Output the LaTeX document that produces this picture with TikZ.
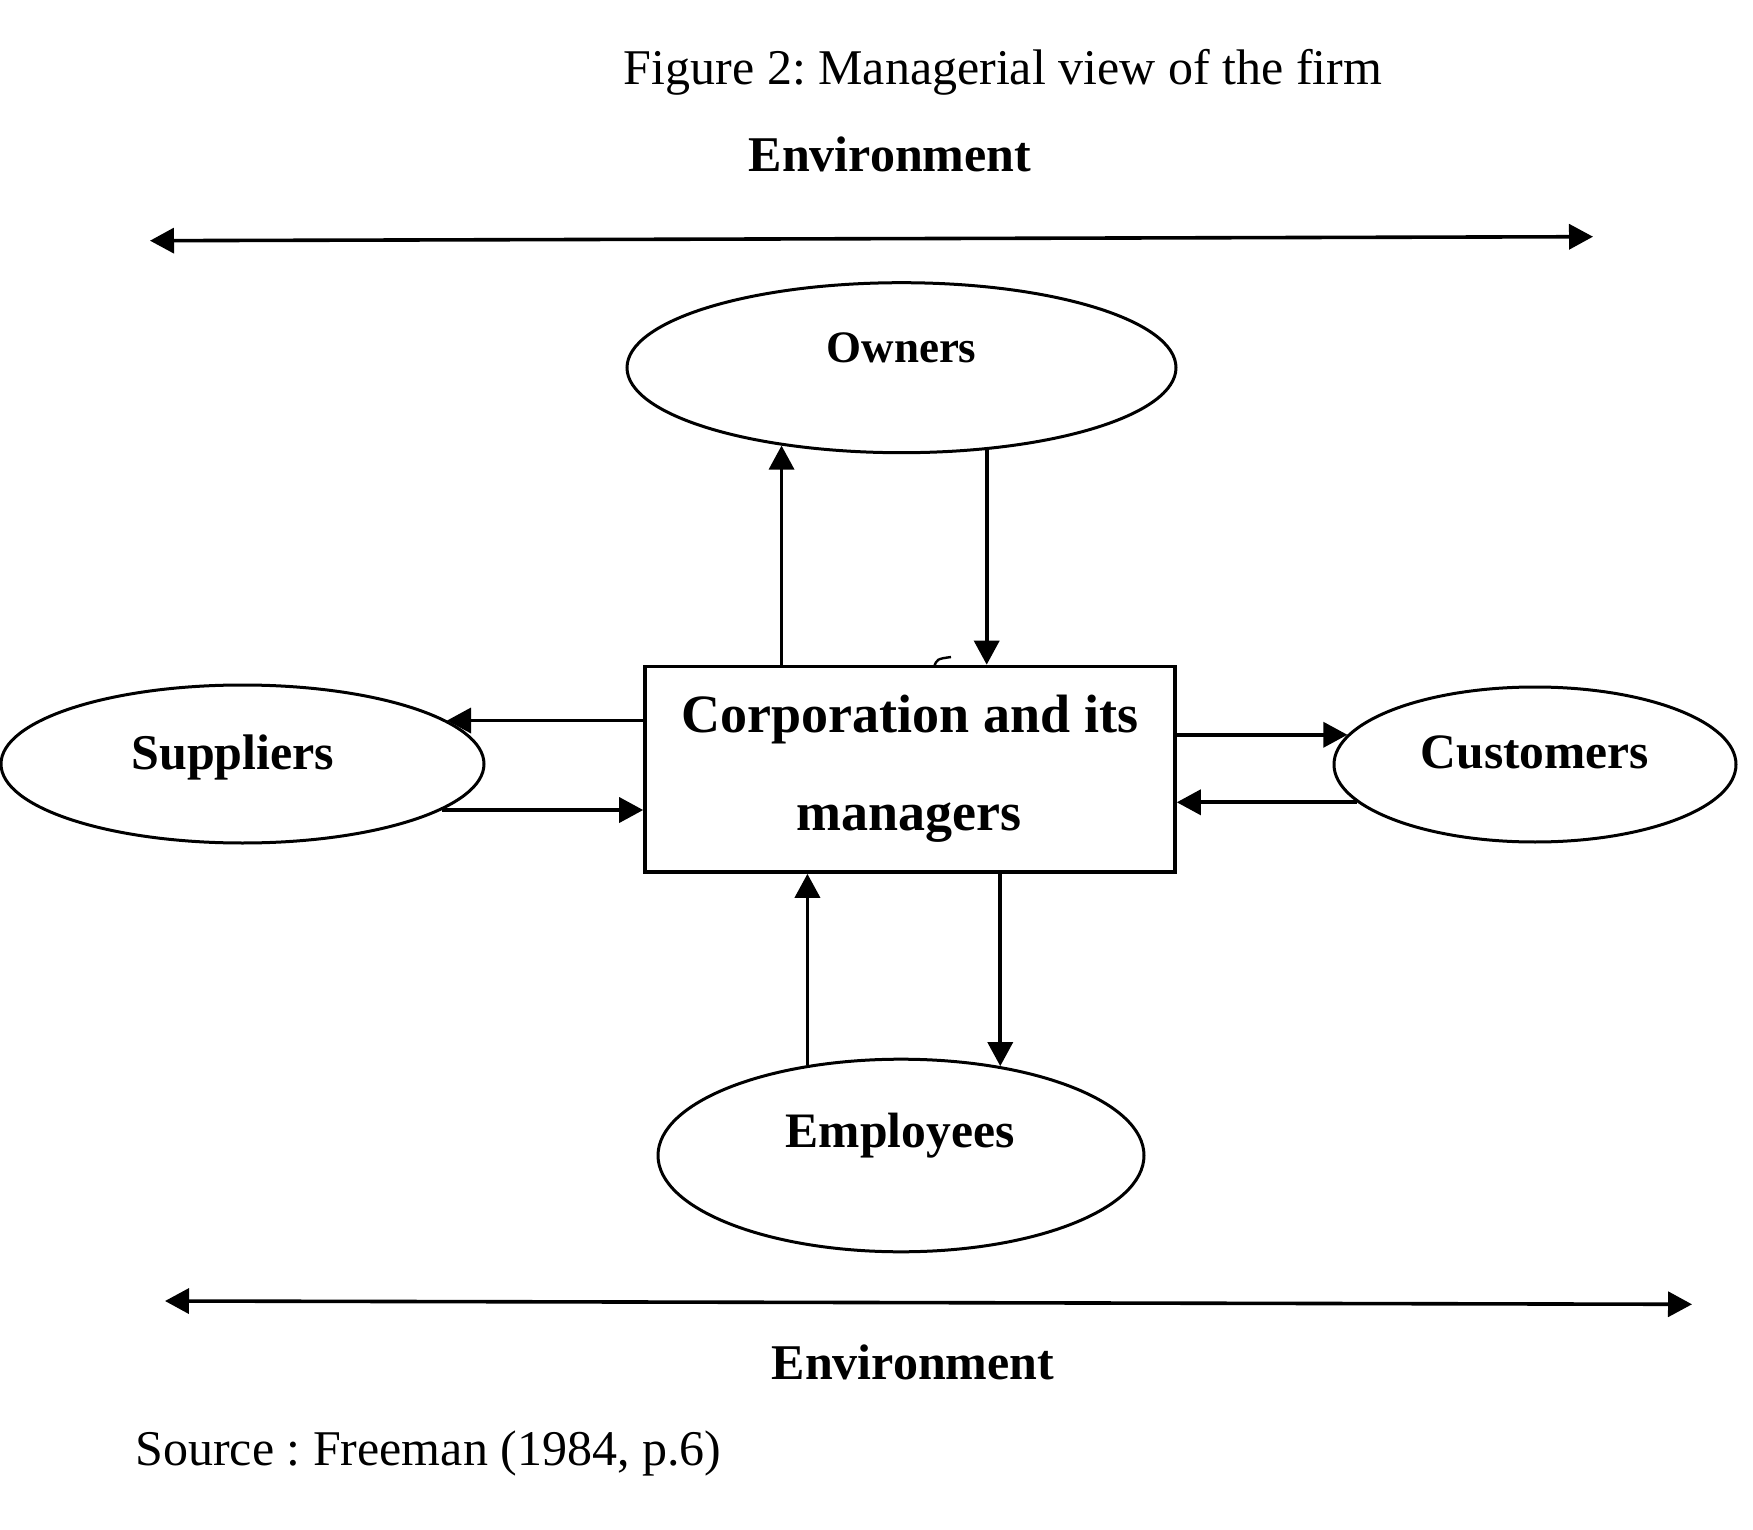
\documentclass[tikz,border=0pt]{standalone}
\usepackage{fontspec}
\setmainfont{Liberation Serif}
\usetikzlibrary{shapes.geometric,arrows.meta}
\frenchspacing
\begin{document}
\begin{tikzpicture}[x=0.5pt,y=-0.5pt,
  ell/.style={draw, ellipse, line width=1.5pt, inner sep=0pt},
  boxst/.style={draw, rectangle, line width=1.8pt, inner sep=0pt},
  lbl/.style={inner sep=0pt, anchor=base},
  tip/.tip={Triangle[length=12pt,width=12.5pt]},
  arr/.style={line width=1.8pt, -tip},
  envarr/.style={line width=1.8pt, tip-tip}]
\useasboundingbox (0,0) rectangle (1753,1530);
\fill[white] (0,0) rectangle (1753,1530);

% title and environment labels
\node[lbl, font=\fontsize{25}{30}\selectfont] (title) at (1003,85) {Figure 2: Managerial view of the firm};
\node[lbl, font=\bfseries\fontsize{25}{30}\selectfont] (envtop) at (890,172) {Environment};
\node[lbl, font=\bfseries\fontsize{25}{30}\selectfont] (envbot) at (913,1379) {Environment};
\node[lbl, anchor=base west, font=\fontsize{25}{30}\selectfont] (source) at (135,1465) {Source : Freeman (1984, p.6)};

% environment arrows
\coordinate (envTL) at (150,240.7);
\coordinate (envTR) at (1593,236.7);
\coordinate (envBL) at (165,1301);
\coordinate (envBR) at (1692,1304.3);
\draw[envarr] (envTL) -- (envTR);
\draw[envarr] (envBL) -- (envBR);

% shapes
\node[ell, minimum width=274.5pt, minimum height=85pt] (owners) at (901.5,367.7) {};
\node[ell, minimum width=241.5pt, minimum height=79pt] (suppliers) at (242.5,764) {};
\node[ell, minimum width=201pt, minimum height=77.5pt] (customers) at (1535,764.5) {};
\node[ell, minimum width=243pt, minimum height=96.3pt] (employees) at (901,1155.5) {};
\node[boxst, minimum width=265pt, minimum height=102.75pt] (corp) at (910,769.25) {};

% labels
\node[lbl, font=\bfseries\fontsize{22.5}{27}\selectfont] (ownersT) at (901.5,363) {Owners};
\node[lbl, font=\bfseries\fontsize{25}{29}\selectfont] (suppliersT) at (233,769) {Suppliers};
\node[lbl, font=\bfseries\fontsize{24.75}{29}\selectfont] (customersT) at (1535,768) {Customers};
\node[lbl, font=\bfseries\fontsize{24.8}{29}\selectfont] (employeesT) at (900,1147) {Employees};
\node[lbl, font=\bfseries\fontsize{27}{32}\selectfont] (corpT1) at (910,732) {Corporation and its};
\node[lbl, font=\bfseries\fontsize{27}{32}\selectfont] (corpT2) at (909,830) {managers};

% connectors
\draw[arr] (owners.213 |- corp.north) -- (owners.213);
\draw[arr] (owners.316) -- (owners.316 |- corp.north);
\draw[arr] (suppliers.12 -| corp.west) -- (suppliers.12);
\draw[arr] (suppliers.347) -- (suppliers.347 -| corp.west);
\draw[arr] (customers.171 -| corp.east) -- (customers.171);
\draw[arr] (customers.192) -- (customers.192 -| corp.east);
\draw[arr] (employees.136) -- (employees.136 |- corp.south);
\draw[arr] (employees.42 |- corp.south) -- (employees.42);

% small stray mark above the box
\draw[line width=1.2pt] (934,667) .. controls (937,659) .. (951,657);
\end{tikzpicture}
\end{document}
